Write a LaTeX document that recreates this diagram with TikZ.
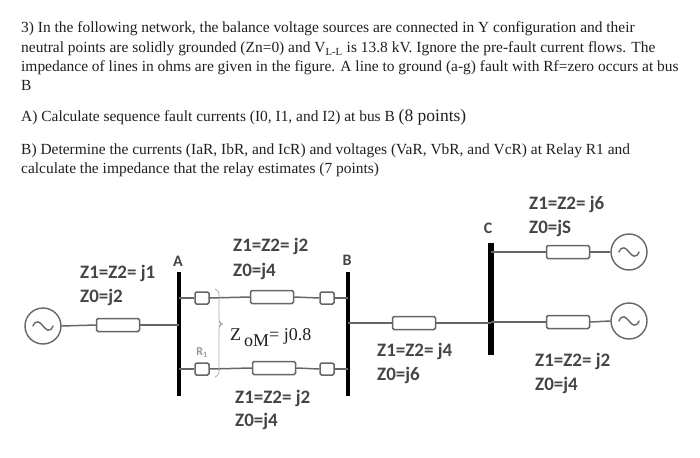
\documentclass[tikz,border=0pt]{standalone}
\usepackage{fontspec}
\setmainfont{Liberation Serif}
\newfontfamily\lblfont{Carlito}[BoldFont={Carlito Bold}]
\definecolor{wirec}{gray}{0.40}
\definecolor{lblc}{gray}{0.27}
\definecolor{txtc}{gray}{0.12}
\tikzset{
  x=1pt,y=-1pt,
  para/.style={anchor=base west,inner sep=0,font=\fontsize{15.45}{17}\selectfont,text=txtc},
  zlabel/.style={anchor=base west,inner sep=0,font=\lblfont\bfseries\fontsize{19}{20}\selectfont,text=lblc},
  buslabel/.style={anchor=center,inner sep=0,font=\lblfont\bfseries\fontsize{16}{17}\selectfont,text=lblc},
  wire/.style={draw=wirec,line width=1.5pt},
  imped/.style={draw=wirec,line width=1.5pt,fill=white,rounded corners=1.5pt,minimum width=43pt,minimum height=13pt,inner sep=0},
  breaker/.style={draw=wirec,line width=1.5pt,fill=white,rounded corners=1.5pt,minimum width=14pt,minimum height=12pt,inner sep=0},
  busbar/.style={fill=black,inner sep=0,minimum width=4.5pt},
  gen/.style={circle,draw=wirec,line width=1.4pt,fill=white,minimum size=36pt,inner sep=0},
  tilde/.style={draw=wirec,line width=1.4pt,line cap=round},
}
\begin{document}
\begin{tikzpicture}
\useasboundingbox (0,0) rectangle (700,457);
% question text
\node[para] (t1) at (21,33) {3) In the following network, the balance voltage sources are connected in Y configuration and their};
\node[para] (t2) at (21,53) {neutral points are solidly grounded (Zn=0) and V\textsubscript{L-L} is 13.8 kV. Ignore the pre-fault current flows. The};
\node[para] (t3) at (21,72) {impedance of lines in ohms are given in the figure. A line to ground (a-g) fault with Rf=zero occurs at bus};
\node[para] (t4) at (21,91) {B};
\node[para] (t5) at (21,122) {A) Calculate sequence fault currents (I0, I1, and I2) at bus B {\fontsize{17.5}{18}\selectfont (8 points)}};
\node[para] (t6) at (21,154) {B) Determine the currents (IaR, IbR, and IcR) and voltages (VaR, VbR, and VcR) at Relay R1 and};
\node[para] (t7) at (21,173) {calculate the impedance that the relay estimates (7 points)};
% buses
\node[busbar,minimum height=124pt] (busA) at (179,334) {};
\node[busbar,minimum height=124pt] (busB) at (348,334) {};
\node[busbar,minimum width=5.5pt,minimum height=112pt] (busC) at (491,299) {};
% elements
\node[gen] (g1) at (43,326) {};
\node[gen] (g2) at (629,252) {};
\node[gen] (g3) at (629,321) {};
\node[imped] (zs) at (118,325) {};
\node[breaker] (b1) at (202,298) {};
\node[imped] (z1) at (272,297) {};
\node[breaker] (b2) at (327,298) {};
\node[breaker] (b3) at (202,369) {};
\node[imped] (z2) at (274,368) {};
\node[breaker] (b4) at (327,369) {};
\node[imped] (z3) at (414,323) {};
\node[imped] (z4) at (568,252) {};
\node[imped] (z5) at (568,322) {};
% wires
\draw[wire] (g1.east) -- (zs.west);
\draw[wire] (zs.east) -- (zs.east -| busA.center);
\draw[wire] (b1.west -| busA.center) -- (b1.west);
\draw[wire] (b1.east) -- (z1.west);
\draw[wire] (z1.east) -- (b2.west);
\draw[wire] (b2.east) -- (b2.east -| busB.center);
\draw[wire] (b3.west -| busA.center) -- (b3.west);
\draw[wire] (b3.east) -- (z2.west);
\draw[wire] (z2.east) -- (b4.west);
\draw[wire] (b4.east) -- (b4.east -| busB.center);
\draw[wire] (z3.west -| busB.center) -- (z3.west);
\draw[wire] (z3.east) -- (z3.east -| busC.center);
\draw[wire] (z4.west -| busC.center) -- (z4.west);
\draw[wire] (z4.east) -- (g2.west);
\draw[wire] (z5.west -| busC.center) -- (z5.west);
\draw[wire] (z5.east) -- (g3.west);
% sine marks
\foreach \g in {g1,g2,g3}{
  \draw[tilde] ([xshift=-10pt]\g.center) .. controls +(3,-7) and +(-3,-4) .. (\g.center) .. controls +(3,4) and +(-3,7) .. ([xshift=10pt]\g.center);
}
% brace
\draw[gray!70,line width=0.7pt,rounded corners=3pt] (215,289) -- (219,291) -- (219,322) -- (222,324) -- (219,326) -- (219,375) -- (215,377);
% bus labels
\node[buslabel] (la) at (178,261) {A};
\node[buslabel] (lb) at (347,260) {B};
\node[buslabel] (lc) at (488,228) {C};
\node[anchor=center,inner sep=0,text=gray!80,font=\lblfont\bfseries\fontsize{12}{13}\selectfont] (r1) at (202,353) {R\textsubscript{1}};
% impedance labels
\node[zlabel] (l1) at (80,278) {Z1=Z2= j1};
\node[zlabel] (l2) at (80,302) {Z0=j2};
\node[zlabel] (l3) at (233,251) {Z1=Z2= j2};
\node[zlabel] (l4) at (233,276) {Z0=j4};
\node[zlabel] (l5) at (235,403) {Z1=Z2= j2};
\node[zlabel] (l6) at (235,426) {Z0=j4};
\node[zlabel] (l7) at (377,356) {Z1=Z2= j4};
\node[zlabel] (l8) at (377,380) {Z0=j6};
\node[zlabel] (l9) at (529,209) {Z1=Z2= j6};
\node[zlabel] (l10) at (529,233) {Z0=jS};
\node[zlabel] (l11) at (535,366) {Z1=Z2= j2};
\node[zlabel] (l12) at (535,390) {Z0=j4};
\node[anchor=base west,inner sep=0,text=txtc,font=\fontsize{18}{20}\selectfont] (zm) at (230,340) {Z\,\raisebox{-6pt}{oM}= j0.8};
\end{tikzpicture}
\end{document}
